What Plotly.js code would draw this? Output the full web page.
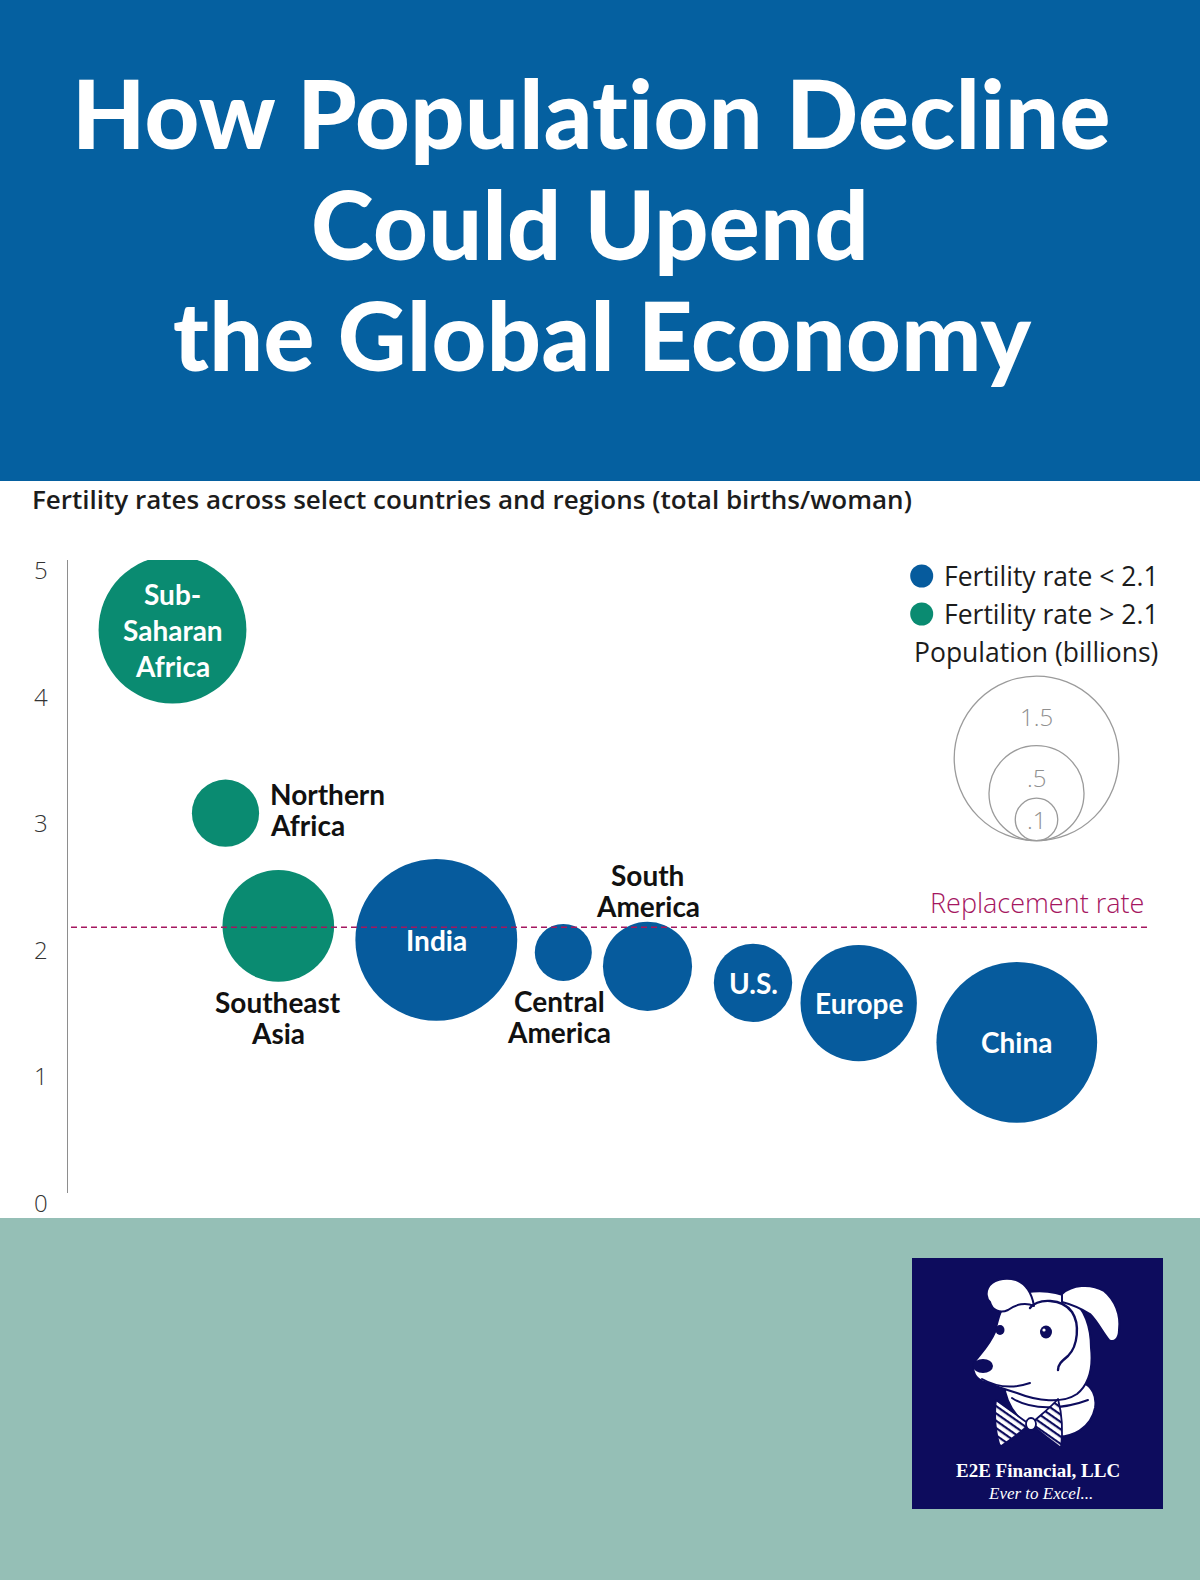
<!DOCTYPE html>
<html>
<head>
<meta charset="utf-8">
<script src="https://cdn.plot.ly/plotly-3.0.1.min.js"></script>
<style>
  html, body { margin: 0; padding: 0; background: #ffffff; }
  #chart { width: 1200px; height: 1580px; }
</style>
</head>
<body>
<div id="chart"></div>
<script>
// ---- Data ---------------------------------------------------------------
const regions = ['Sub-Saharan Africa', 'Northern Africa', 'Southeast Asia', 'India',
                 'Central America', 'South America', 'U.S.', 'Europe', 'China'];
const fertility = [4.45, 3.0, 2.11, 2.0, 1.9, 1.79, 1.66, 1.5, 1.19];   // births per woman
const population = [1.21, 0.25, 0.69, 1.45, 0.18, 0.44, 0.34, 0.75, 1.43]; // billions
const replacementRate = 2.1;
const keyValues = [1.5, 0.5, 0.1];
const keyLabels = ['1.5', '.5', '.1'];
const tickValues = [0, 1, 2, 3, 4, 5];
const titleLines = ['How Population Decline', 'Could Upend', 'the Global Economy'];
const subtitle = 'Fertility rates across select countries and regions (total births/woman)';

// ---- Layout settings ----------------------------------------------------
const W = 1200, H = 1580;
const px = x => x / W;          // page pixel -> paper fraction (x)
const py = y => 1 - y / H;      // page pixel -> paper fraction (y)

const BLUE = '#065b9d', GREEN = '#0a8b71', NAVY = '#0d0c5d';
const HEADER = '#0560a0', TEAL = '#95bfb6', MAGENTA = '#a5165f';

// horizontal placement of each bubble along the hidden x axis
const column = [1.725, 2.255, 2.783, 4.363, 5.633, 6.475, 7.53, 8.587, 10.168];

// bubble area scale: the 1.5 bn key circle has a radius of 82.3 px
const keyRadius = 82.3;
const sizeref = keyValues[0] / (2 * keyRadius * keyRadius);
const radiusOf = v => Math.sqrt(v / (2 * sizeref));

// how each region's name is set
const labelSpec = {
  'Sub-Saharan Africa': { lines: ['Sub-', 'Saharan', 'Africa'], where: 'inside', lead: 36 },
  'Northern Africa':    { lines: ['Northern', 'Africa'], where: 'right' },
  'Southeast Asia':     { lines: ['Southeast', 'Asia'], where: 'below' },
  'India':              { lines: ['India'], where: 'inside' },
  'Central America':    { lines: ['Central', 'America'], where: 'below', dx: -4 },
  'South America':      { lines: ['South', 'America'], where: 'above' },
  'U.S.':               { lines: ['U.S.'], where: 'inside' },
  'Europe':             { lines: ['Europe'], where: 'inside' },
  'China':              { lines: ['China'], where: 'inside' }
};

const LABEL_FONT = 'Lato, "Open Sans", sans-serif';
const TEXT_FONT = '"Open Sans", Lato, sans-serif';
// plain letterforms (no "ti" ligature) for the headline
const noLig = t => '<span style="font-variant-ligatures:none;letter-spacing:0.4px">' + t + '</span>';

// ---- Traces -------------------------------------------------------------
const bubbles = {
  type: 'scatter',
  mode: 'markers',
  x: column,
  y: fertility,
  text: regions,
  hoverinfo: 'skip',
  showlegend: false,
  marker: {
    size: population,
    sizemode: 'area',
    sizeref: sizeref,
    color: fertility.map(v => v > replacementRate ? GREEN : BLUE),
    line: { width: 0 },
    opacity: 1
  }
};

// ---- Annotations --------------------------------------------------------
const annotations = [];

const titleCentres = [591, 590, 602];
titleLines.forEach((t, i) => {
  annotations.push({
    text: noLig(t), xref: 'paper', yref: 'paper',
    x: px(titleCentres[i]), y: py(112 + i * 111),
    xanchor: 'center', yanchor: 'middle', showarrow: false,
    font: { family: LABEL_FONT, size: 95, color: '#ffffff', weight: 900 }
  });
});

annotations.push({
  text: subtitle, xref: 'paper', yref: 'paper',
  x: px(30), y: py(499), xanchor: 'left', yanchor: 'middle', showarrow: false,
  font: { family: TEXT_FONT, size: 26, color: '#1c1c1c', weight: 600 }
});

// y-axis tick labels sit just below their tick values
tickValues.forEach(v => {
  annotations.push({
    text: String(v), xref: 'paper', yref: 'y', x: px(50), y: v, yshift: -9.5,
    xanchor: 'right', yanchor: 'middle', showarrow: false,
    font: { family: TEXT_FONT, size: 24, color: '#333333', weight: 300 }
  });
});

regions.forEach((name, i) => {
  const spec = labelSpec[name];
  const r = radiusOf(population[i]);
  const n = spec.lines.length;
  const inside = spec.where === 'inside';
  const lead = spec.lead || (inside ? 34 : 31);
  spec.lines.forEach((line, k) => {
    let xshift = spec.dx || 0, yshift = 0, xanchor = 'center';
    if (spec.where === 'inside') {
      yshift = -(k - (n - 1) / 2) * lead;
    } else if (spec.where === 'right') {
      xanchor = 'left';
      xshift = r + 9;
      yshift = -(-3.6 + (k - (n - 1) / 2) * lead);
    } else if (spec.where === 'below') {
      yshift = -(r + 20 + k * lead);
    } else if (spec.where === 'above') {
      yshift = r + 16 + (n - 1 - k) * lead;
    }
    annotations.push({
      text: line, xref: 'x', yref: 'y', x: column[i], y: fertility[i],
      xshift: xshift, yshift: yshift, xanchor: xanchor, yanchor: 'middle',
      showarrow: false,
      font: { family: LABEL_FONT, size: 28, weight: 700,
              color: inside ? '#ffffff' : '#111111' }
    });
  });
});

annotations.push({
  text: 'Replacement rate', xref: 'paper', yref: 'y',
  x: px(1146), y: replacementRate, yshift: 25,
  xanchor: 'right', yanchor: 'middle', showarrow: false,
  font: { family: TEXT_FONT, size: 27, color: MAGENTA, weight: 300 }
});

// legend rows
const legendRows = [
  { text: 'Fertility rate < 2.1', color: BLUE, y: 576 },
  { text: 'Fertility rate > 2.1', color: GREEN, y: 614 }
];
legendRows.forEach(row => {
  annotations.push({
    text: row.text, xref: 'paper', yref: 'paper', x: px(942), y: py(row.y),
    xanchor: 'left', yanchor: 'middle', showarrow: false,
    font: { family: TEXT_FONT, size: 26.5, color: '#1c1c1c', weight: 400 }
  });
});
annotations.push({
  text: 'Population (billions)', xref: 'paper', yref: 'paper', x: px(1036), y: py(652),
  xanchor: 'center', yanchor: 'middle', showarrow: false,
  font: { family: TEXT_FONT, size: 26.5, color: '#1c1c1c', weight: 400 }
});

// size key: nested circles sharing a bottom point
const keyCx = 1036.5, keyBottom = 840.7;
const keyShapes = [];
keyValues.forEach((v, i) => {
  const r = radiusOf(v);
  keyShapes.push({
    type: 'circle', xref: 'paper', yref: 'paper',
    x0: px(keyCx - r), x1: px(keyCx + r), y0: py(keyBottom), y1: py(keyBottom - 2 * r),
    line: { color: '#9b9b9b', width: 1.3 }, fillcolor: 'rgba(0,0,0,0)'
  });
  const top = keyBottom - 2 * r;
  const next = i + 1 < keyValues.length ? keyBottom - 2 * radiusOf(keyValues[i + 1]) : null;
  const ly = next === null ? keyBottom - r : (top + next) / 2 + 6;
  annotations.push({
    text: keyLabels[i], xref: 'paper', yref: 'paper', x: px(keyCx), y: py(ly),
    xanchor: 'center', yanchor: 'middle', showarrow: false,
    font: { family: TEXT_FONT, size: 24, color: '#909090', weight: 300 }
  });
});

// logo lettering
annotations.push({
  text: 'E2E Financial, LLC', xref: 'paper', yref: 'paper', x: px(1038), y: py(1470),
  xanchor: 'center', yanchor: 'middle', showarrow: false,
  font: { family: '"Liberation Serif", serif', size: 19, color: '#ffffff', weight: 700 }
});
annotations.push({
  text: 'Ever to Excel...', xref: 'paper', yref: 'paper', x: px(1040), y: py(1493),
  xanchor: 'center', yanchor: 'middle', showarrow: false,
  font: { family: '"Liberation Serif", serif', size: 17, color: '#ffffff', style: 'italic' }
});

// ---- Shapes -------------------------------------------------------------
const dot = (cx, cy, r, color) => ({
  type: 'circle', xref: 'paper', yref: 'paper',
  x0: px(cx - r), x1: px(cx + r), y0: py(cy + r), y1: py(cy - r),
  fillcolor: color, line: { width: 0 }
});

const shapes = [
  { type: 'rect', xref: 'paper', yref: 'paper', x0: 0, x1: 1, y0: py(481), y1: 1,
    fillcolor: HEADER, line: { width: 0 }, layer: 'below' },
  { type: 'rect', xref: 'paper', yref: 'paper', x0: 0, x1: 1, y0: 0, y1: py(1218),
    fillcolor: TEAL, line: { width: 0 }, layer: 'below' },
  { type: 'rect', xref: 'paper', yref: 'paper', x0: px(912), x1: px(1163), y0: py(1509), y1: py(1258),
    fillcolor: NAVY, line: { width: 0 }, layer: 'below' },
  { type: 'line', xref: 'paper', yref: 'y', x0: px(71), x1: px(1150),
    y0: replacementRate, y1: replacementRate,
    line: { color: MAGENTA, width: 1.5, dash: '6px,4px' } },
  dot(921.7, 576, 11.5, BLUE),
  dot(921.7, 614, 11.5, GREEN)
].concat(keyShapes);

// ---- Dog mascot for the logo tile --------------------------------------
const dogSvg = `
<svg xmlns="http://www.w3.org/2000/svg" viewBox="0 0 251 251" width="251" height="251">
 <defs>
  <pattern id="st" patternUnits="userSpaceOnUse" width="6" height="6" patternTransform="rotate(35)">
   <rect width="6" height="6" fill="#ffffff"/>
   <rect width="6" height="2.2" fill="${NAVY}"/>
  </pattern>
 </defs>
 <g stroke="${NAVY}" stroke-width="2" stroke-linejoin="round" stroke-linecap="round">
  <path fill="#ffffff" d="M92,126 C94,150 112,172 140,178 C160,181 179,170 183,150 C185,138 180,128 170,124 Z"/>
  <path fill="#ffffff" d="M98,40 C115,31 140,31 158,40 C173,50 179,70 179,90 C181,108 178,125 165,136 C150,146 125,143 105,135 C92,131 80,127 70,123 C61,119 59,108 64,102 C70,94 78,86 83,74 C86,62 88,50 98,40 Z"/>
  <path fill="#ffffff" d="M76,30 C80,22 92,19 104,22 C114,26 120,36 122,48 C114,44 104,46 96,52 C88,56 80,52 78,44 C74,40 74,34 76,30 Z"/>
  <path fill="#ffffff" d="M150,36 C160,27 178,25 192,33 C203,42 209,57 207,72 C207,81 202,85 197,82 C191,75 186,64 178,56 C168,50 158,46 150,44 Z"/>
  <path fill="none" stroke-width="2.4" d="M118,50 C126,40 150,40 160,54 C168,66 166,88 156,98 C150,103 146,106 146,112"/>
  <path fill="none" d="M70,121 C84,129 100,131 118,125"/>
  <path fill="none" d="M100,140 C118,152 150,152 176,142"/>
 </g>
 <ellipse cx="88" cy="72" rx="4.5" ry="5" fill="${NAVY}"/>
 <ellipse cx="134" cy="74" rx="6" ry="6.5" fill="${NAVY}"/>
 <circle cx="132" cy="72" r="1.6" fill="#ffffff"/>
 <ellipse cx="71" cy="108" rx="10" ry="7" fill="${NAVY}"/>
 <g stroke="${NAVY}" stroke-width="1.8" stroke-linejoin="round">
  <path fill="url(#st)" d="M84,142 C82,158 84,176 88,189 C98,182 110,174 117,166 Z"/>
  <path fill="url(#st)" d="M121,164 C130,156 140,148 146,141 C150,156 151,174 149,190 C138,182 128,174 121,168 Z"/>
  <ellipse cx="119" cy="166" rx="5" ry="6" fill="#ffffff"/>
 </g>
</svg>`;

const images = [{
  source: 'data:image/svg+xml;charset=utf-8,' + encodeURIComponent(dogSvg),
  xref: 'paper', yref: 'paper', x: px(912), y: py(1258),
  sizex: 251 / W, sizey: 251 / H, xanchor: 'left', yanchor: 'top',
  sizing: 'stretch', layer: 'above'
}];

// ---- Layout -------------------------------------------------------------
const layout = {
  width: W, height: H,
  margin: { l: 0, r: 0, t: 0, b: 0, pad: 0 },
  paper_bgcolor: '#ffffff',
  plot_bgcolor: 'rgba(0,0,0,0)',
  showlegend: false,
  xaxis: { range: [0, 12], domain: [0, 1], visible: false, fixedrange: true },
  yaxis: {
    range: [0, 5], domain: [py(1193), py(560)],
    anchor: 'free', position: px(66.7),
    showline: true, linecolor: '#8e8e8e', linewidth: 1.5,
    showgrid: false, zeroline: false, ticks: '', showticklabels: false,
    tickmode: 'array', tickvals: tickValues,
    fixedrange: true
  },
  shapes: shapes,
  annotations: annotations,
  images: images
};

Plotly.newPlot('chart', [bubbles], layout, { displayModeBar: false, staticPlot: true });
</script>
</body>
</html>
